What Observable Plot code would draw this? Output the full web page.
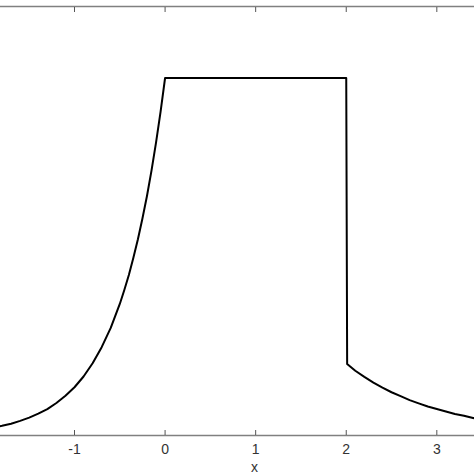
<!DOCTYPE html>
<html>
<head>
<meta charset="utf-8">
<script src="https://cdn.jsdelivr.net/npm/d3@7"></script>
<script src="https://cdn.jsdelivr.net/npm/@observablehq/plot@0.6"></script>
<style>
  html, body { margin: 0; padding: 0; background: #fff; }
  svg { display: block; }
</style>
</head>
<body>
<div id="chart"></div>
<script>
// Values
const xs = [-1.9, -1.8, -1.7, -1.6, -1.5, -1.4, -1.3, -1.2, -1.1, -1.0,
            -0.9, -0.8, -0.7, -0.6, -0.5, -0.45, -0.4, -0.35, -0.3, -0.25,
            -0.2, -0.15, -0.1, -0.05, 0.0, 2.0,
            2.01, 2.1, 2.2, 2.3, 2.4, 2.5, 2.6, 2.7, 2.8, 2.9, 3.0,
            3.1, 3.2, 3.3, 3.4, 3.5];
const ys = [0.022, 0.027, 0.033, 0.041, 0.050, 0.061, 0.074, 0.091, 0.111, 0.135,
            0.165, 0.202, 0.247, 0.301, 0.368, 0.407, 0.449, 0.497, 0.549, 0.607,
            0.670, 0.741, 0.819, 0.905, 1.0, 1.0,
            0.2, 0.181, 0.164, 0.148, 0.134, 0.121, 0.110, 0.099, 0.090, 0.081, 0.074,
            0.067, 0.060, 0.055, 0.049, 0.045];
const xTicks = [-1, 0, 1, 2, 3];
const xDomain = [-1.817, 3.416];
const yDomain = [0, 1.2];
const xLabel = "x";

const data = xs.map((x, i) => ({x, y: ys[i]}));

const chart = Plot.plot({
  width: 474,
  height: 474,
  marginLeft: 0,
  marginRight: 0,
  marginTop: 6,
  marginBottom: 39,
  style: {fontFamily: "'Liberation Sans', Arial, sans-serif", fontSize: "14px", background: "#fff"},
  x: {domain: xDomain, ticks: xTicks, label: null},
  y: {domain: yDomain, axis: null},
  marks: [
    Plot.ruleY([yDomain[0]], {stroke: "#808080", strokeWidth: 1.6}),
    Plot.ruleY([yDomain[1]], {stroke: "#808080", strokeWidth: 1.6}),
    Plot.axisX(xTicks, {anchor: "bottom", tickSize: 5, dy: -5, tickFormat: () => "", stroke: "#555", label: null}),
    Plot.axisX(xTicks, {anchor: "top", tickSize: 5, dy: 5, tickFormat: () => "", stroke: "#555", label: null}),
    Plot.axisX(xTicks, {anchor: "bottom", tickSize: 0, tickPadding: 9, tickFormat: d => String(d),
                        fill: "#333", fontSize: 14, label: null}),
    Plot.text([xLabel], {frameAnchor: "bottom", text: d => d, dx: 17, dy: 36, fontSize: 14, fill: "#333"}),
    Plot.line(data, {x: "x", y: "y", stroke: "#000", strokeWidth: 2, curve: "linear"})
  ]
});
document.getElementById("chart").appendChild(chart);
</script>
</body>
</html>
